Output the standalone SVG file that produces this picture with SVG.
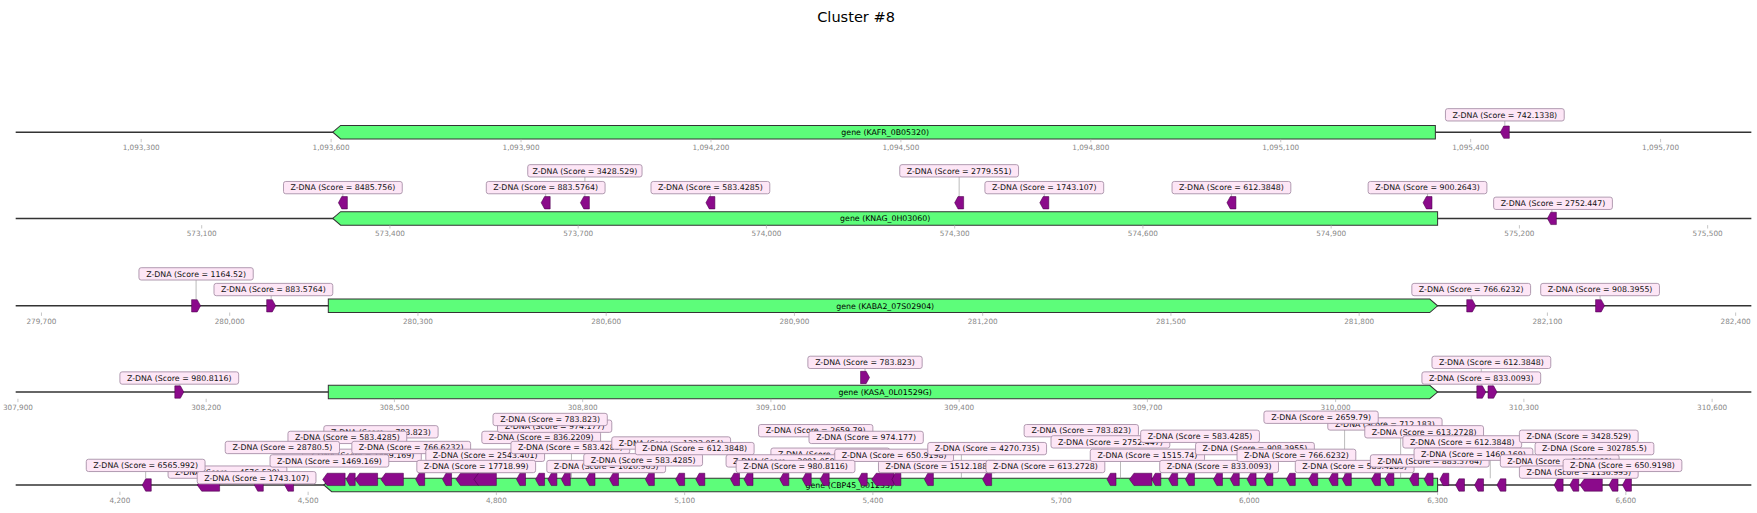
<svg xmlns="http://www.w3.org/2000/svg" xmlns:xlink="http://www.w3.org/1999/xlink" width="1757" height="513" viewBox="0 0 1757 513">
<style>
.ax{stroke:#333;stroke-width:1.3;fill:none}
.gene{fill:#5dfd7a;stroke:#333;stroke-width:0.9}
.gl{font-family:"DejaVu Sans",sans-serif;font-size:7px;fill:#000;text-anchor:middle}
.tk{font-family:"DejaVu Sans",sans-serif;font-size:6.5px;fill:#888;text-anchor:middle}
.tm{stroke:#aaa;stroke-width:0.6}
.lb rect{fill:#fde6f6;stroke:#a890a8;stroke-width:0.8}
.lb text{font-family:"DejaVu Sans",sans-serif;font-size:7px;fill:#111;text-anchor:middle}
.ld{stroke:#999;stroke-width:0.6}
.ft{fill:#8b0a8b;stroke:#4a004a;stroke-width:0.5}
.title{font-family:"DejaVu Sans",sans-serif;font-size:13px;fill:#000;text-anchor:middle}
</style>
<defs>
<path id="fl" class="ft" d="M-4,0 L-1,-5.5 H4 V5.5 H-1 Z"/>
<path id="fr" class="ft" d="M4,0 L1,-5.5 H-4 V5.5 H1 Z"/>
<path id="wl" class="ft" d="M-10,0 L-6,-5.5 H10 V5.5 H-6 Z"/>
</defs>
<rect width="1757" height="513" fill="#fff"/>
<g transform="scale(1.1205,1.1201)">
<text class="title" x="764" y="20">Cluster #8</text>

<!-- Track 1 -->
<g id="track1">
<line class="ax" x1="14" y1="118" x2="1563" y2="118"/>
<g id="gene1"><path class="gene" d="M297,118 L304,112 H1281 V124 H304 Z"/><text class="gl" x="790" y="120.5">gene (KAFR_0B05320)</text></g>
<g class="tm"><line x1="126" y1="124" x2="126" y2="127"/><line x1="295.5" y1="124" x2="295.5" y2="127"/><line x1="465" y1="124" x2="465" y2="127"/><line x1="634.5" y1="124" x2="634.5" y2="127"/><line x1="804" y1="124" x2="804" y2="127"/><line x1="973.5" y1="124" x2="973.5" y2="127"/><line x1="1143" y1="124" x2="1143" y2="127"/><line x1="1312.5" y1="124" x2="1312.5" y2="127"/><line x1="1482" y1="124" x2="1482" y2="127"/></g>
<text class="tk" x="126" y="134">1,093,300</text><text class="tk" x="295.5" y="134">1,093,600</text><text class="tk" x="465" y="134">1,093,900</text><text class="tk" x="634.5" y="134">1,094,200</text><text class="tk" x="804" y="134">1,094,500</text><text class="tk" x="973.5" y="134">1,094,800</text><text class="tk" x="1143" y="134">1,095,100</text><text class="tk" x="1312.5" y="134">1,095,400</text><text class="tk" x="1482" y="134">1,095,700</text>
</g>

<!-- Track 2 -->
<g id="track2">
<line class="ax" x1="14" y1="195" x2="1563" y2="195"/>
<g id="gene2"><path class="gene" d="M297,195 L304,189 H1283 V201 H304 Z"/><text class="gl" x="790" y="197.5">gene (KNAG_0H03060)</text></g>
<g class="tm"><line x1="180" y1="201" x2="180" y2="204"/><line x1="348" y1="201" x2="348" y2="204"/><line x1="516" y1="201" x2="516" y2="204"/><line x1="684" y1="201" x2="684" y2="204"/><line x1="852" y1="201" x2="852" y2="204"/><line x1="1020" y1="201" x2="1020" y2="204"/><line x1="1188" y1="201" x2="1188" y2="204"/><line x1="1356" y1="201" x2="1356" y2="204"/><line x1="1524" y1="201" x2="1524" y2="204"/></g>
<text class="tk" x="180" y="211">573,100</text><text class="tk" x="348" y="211">573,400</text><text class="tk" x="516" y="211">573,700</text><text class="tk" x="684" y="211">574,000</text><text class="tk" x="852" y="211">574,300</text><text class="tk" x="1020" y="211">574,600</text><text class="tk" x="1188" y="211">574,900</text><text class="tk" x="1356" y="211">575,200</text><text class="tk" x="1524" y="211">575,500</text>
</g>

<!-- Track 3 -->
<g id="track3">
<line class="ax" x1="14" y1="273" x2="1563" y2="273"/>
<g id="gene3"><path class="gene" d="M293,267 H1276 L1283,273 L1276,279 H293 Z"/><text class="gl" x="790" y="275.5">gene (KABA2_07S02904)</text></g>
<g class="tm"><line x1="37" y1="279" x2="37" y2="282"/><line x1="205" y1="279" x2="205" y2="282"/><line x1="373" y1="279" x2="373" y2="282"/><line x1="541" y1="279" x2="541" y2="282"/><line x1="709" y1="279" x2="709" y2="282"/><line x1="877" y1="279" x2="877" y2="282"/><line x1="1045" y1="279" x2="1045" y2="282"/><line x1="1213" y1="279" x2="1213" y2="282"/><line x1="1381" y1="279" x2="1381" y2="282"/><line x1="1549" y1="279" x2="1549" y2="282"/></g>
<text class="tk" x="37" y="289">279,700</text><text class="tk" x="205" y="289">280,000</text><text class="tk" x="373" y="289">280,300</text><text class="tk" x="541" y="289">280,600</text><text class="tk" x="709" y="289">280,900</text><text class="tk" x="877" y="289">281,200</text><text class="tk" x="1045" y="289">281,500</text><text class="tk" x="1213" y="289">281,800</text><text class="tk" x="1381" y="289">282,100</text><text class="tk" x="1549" y="289">282,400</text>
</g>

<!-- Track 4 -->
<g id="track4">
<line class="ax" x1="14" y1="350" x2="1563" y2="350"/>
<g id="gene4"><path class="gene" d="M293,344 H1276 L1283,350 L1276,356 H293 Z"/><text class="gl" x="790" y="352.5">gene (KASA_0L01529G)</text></g>
<g class="tm"><line x1="16" y1="356" x2="16" y2="359"/><line x1="184" y1="356" x2="184" y2="359"/><line x1="352" y1="356" x2="352" y2="359"/><line x1="520" y1="356" x2="520" y2="359"/><line x1="688" y1="356" x2="688" y2="359"/><line x1="856" y1="356" x2="856" y2="359"/><line x1="1024" y1="356" x2="1024" y2="359"/><line x1="1192" y1="356" x2="1192" y2="359"/><line x1="1360" y1="356" x2="1360" y2="359"/><line x1="1528" y1="356" x2="1528" y2="359"/></g>
<text class="tk" x="16" y="366">307,900</text><text class="tk" x="184" y="366">308,200</text><text class="tk" x="352" y="366">308,500</text><text class="tk" x="520" y="366">308,800</text><text class="tk" x="688" y="366">309,100</text><text class="tk" x="856" y="366">309,400</text><text class="tk" x="1024" y="366">309,700</text><text class="tk" x="1192" y="366">310,000</text><text class="tk" x="1360" y="366">310,300</text><text class="tk" x="1528" y="366">310,600</text>
</g>

<!-- Track 5 -->
<g id="track5">
<line class="ax" x1="14" y1="433" x2="1563" y2="433"/>
<g id="gene5"><path class="gene" d="M289,433 L296,427 H1283 V439 H296 Z"/><text class="gl" x="758" y="436">gene (CBP45_001233)</text></g>
<g class="tm"><line x1="107" y1="439" x2="107" y2="442"/><line x1="275" y1="439" x2="275" y2="442"/><line x1="443" y1="439" x2="443" y2="442"/><line x1="611" y1="439" x2="611" y2="442"/><line x1="779" y1="439" x2="779" y2="442"/><line x1="947" y1="439" x2="947" y2="442"/><line x1="1115" y1="439" x2="1115" y2="442"/><line x1="1283" y1="439" x2="1283" y2="442"/><line x1="1451" y1="439" x2="1451" y2="442"/></g>
<text class="tk" x="107" y="449">4,200</text><text class="tk" x="275" y="449">4,500</text><text class="tk" x="443" y="449">4,800</text><text class="tk" x="611" y="449">5,100</text><text class="tk" x="779" y="449">5,400</text><text class="tk" x="947" y="449">5,700</text><text class="tk" x="1115" y="449">6,000</text><text class="tk" x="1283" y="449">6,300</text><text class="tk" x="1451" y="449">6,600</text>
</g>

<!-- connectors (leader lines) -->
<g id="connectors">
<line class="ld" x1="1343" y1="108" x2="1343" y2="112"/>
<line class="ld" x1="306" y1="173" x2="306" y2="176"/>
<line class="ld" x1="522" y1="158" x2="522" y2="176"/>
<line class="ld" x1="487" y1="173" x2="487" y2="176"/>
<line class="ld" x1="634" y1="173" x2="634" y2="176"/>
<line class="ld" x1="856" y1="158" x2="856" y2="176"/>
<line class="ld" x1="932" y1="173" x2="932" y2="176"/>
<line class="ld" x1="1099" y1="173" x2="1099" y2="176"/>
<line class="ld" x1="1274" y1="173" x2="1274" y2="176"/>
<line class="ld" x1="1385" y1="187" x2="1385" y2="190"/>
<line class="ld" x1="175" y1="250" x2="175" y2="267"/>
<line class="ld" x1="242" y1="264" x2="242" y2="267"/>
<line class="ld" x1="1313" y1="264" x2="1313" y2="267"/>
<line class="ld" x1="1428" y1="264" x2="1428" y2="267"/>
<line class="ld" x1="160" y1="343" x2="160" y2="344"/>
<line class="ld" x1="772" y1="329" x2="772" y2="332"/>
<line class="ld" x1="1322" y1="329" x2="1322" y2="344"/>
<line class="ld" x1="1332" y1="343" x2="1332" y2="344"/>
<line class="ld" x1="130" y1="421" x2="130" y2="427"/>
<line class="ld" x1="1200" y1="383" x2="1200" y2="427"/>
<line class="ld" x1="1250" y1="388" x2="1250" y2="427"/>
<line class="ld" x1="1330" y1="399" x2="1330" y2="427"/>
<line class="ld" x1="1000" y1="404" x2="1000" y2="427"/>
<line class="ld" x1="858" y1="399" x2="858" y2="427"/>
<line class="ld" x1="510" y1="389" x2="510" y2="427"/>
<line class="ld" x1="1420" y1="399" x2="1420" y2="427"/>
</g>

<!-- features -->
<g id="features">
<use xlink:href="#fl" x="1343" y="118"/>
<use xlink:href="#fl" x="306" y="181"/><use xlink:href="#fl" x="487" y="181"/><use xlink:href="#fl" x="522" y="181"/><use xlink:href="#fl" x="634" y="181"/><use xlink:href="#fl" x="856" y="181"/><use xlink:href="#fl" x="932" y="181"/><use xlink:href="#fl" x="1099" y="181"/><use xlink:href="#fl" x="1274" y="181"/><use xlink:href="#fl" x="1385" y="195"/>
<use xlink:href="#fr" x="175" y="273"/><use xlink:href="#fr" x="242" y="273"/><use xlink:href="#fr" x="1313" y="273"/><use xlink:href="#fr" x="1428" y="273"/>
<use xlink:href="#fr" x="160" y="350"/><use xlink:href="#fr" x="772" y="337"/><use xlink:href="#fr" x="1322" y="350"/><use xlink:href="#fr" x="1332" y="350"/>
<use xlink:href="#fl" x="131" y="433"/><use xlink:href="#wl" x="186" y="433"/><use xlink:href="#fl" x="231" y="433"/><use xlink:href="#fl" x="258" y="433"/>
<use xlink:href="#wl" x="298" y="428"/><use xlink:href="#fl" x="313" y="428"/><use xlink:href="#wl" x="327" y="428"/><use xlink:href="#wl" x="350" y="428"/><use xlink:href="#fl" x="375" y="428"/><use xlink:href="#fl" x="399" y="428"/><use xlink:href="#wl" x="417" y="428"/><use xlink:href="#wl" x="433" y="428"/><use xlink:href="#fl" x="465" y="428"/><use xlink:href="#fl" x="482" y="428"/><use xlink:href="#fl" x="493" y="428"/><use xlink:href="#fl" x="505" y="428"/><use xlink:href="#fl" x="527" y="428"/><use xlink:href="#fl" x="548" y="428"/><use xlink:href="#fl" x="580" y="428"/><use xlink:href="#fl" x="607" y="428"/><use xlink:href="#fl" x="625" y="428"/><use xlink:href="#fl" x="656" y="428"/><use xlink:href="#fl" x="668" y="428"/><use xlink:href="#fl" x="700" y="428"/><use xlink:href="#fl" x="720" y="428"/><use xlink:href="#fl" x="736" y="428"/><use xlink:href="#fl" x="770" y="428"/><use xlink:href="#wl" x="788" y="428"/><use xlink:href="#fl" x="800" y="428"/><use xlink:href="#fl" x="829" y="428"/><use xlink:href="#fl" x="881" y="428"/><use xlink:href="#fl" x="992" y="428"/><use xlink:href="#wl" x="1018" y="428"/><use xlink:href="#fl" x="1032" y="428"/><use xlink:href="#fl" x="1047" y="428"/><use xlink:href="#fl" x="1062" y="428"/><use xlink:href="#fl" x="1087" y="428"/><use xlink:href="#fl" x="1102" y="428"/><use xlink:href="#fl" x="1117" y="428"/><use xlink:href="#fl" x="1132" y="428"/><use xlink:href="#fl" x="1152" y="428"/><use xlink:href="#fl" x="1172" y="428"/><use xlink:href="#fl" x="1190" y="428"/><use xlink:href="#fl" x="1202" y="428"/><use xlink:href="#fl" x="1228" y="428"/><use xlink:href="#fl" x="1240" y="428"/><use xlink:href="#fl" x="1262" y="428"/><use xlink:href="#fl" x="1275" y="428"/><use xlink:href="#fl" x="1289" y="428"/>
<use xlink:href="#fl" x="1303" y="433"/><use xlink:href="#fl" x="1320" y="433"/><use xlink:href="#fl" x="1340" y="433"/><use xlink:href="#fl" x="1391" y="433"/><use xlink:href="#fl" x="1405" y="433"/><use xlink:href="#wl" x="1420" y="433"/><use xlink:href="#fl" x="1440" y="433"/><use xlink:href="#fl" x="1452" y="433"/>
</g>

<!-- labels -->
<g id="labels" class="lb">
<g><rect x="1290" y="97" width="106" height="11" rx="2"/><text x="1343" y="105">Z-DNA (Score = 742.1338)</text></g>
<g><rect x="253" y="162" width="106" height="11" rx="2"/><text x="306" y="170">Z-DNA (Score = 8485.756)</text></g>
<g><rect x="471" y="147" width="102" height="11" rx="2"/><text x="522" y="155">Z-DNA (Score = 3428.529)</text></g>
<g><rect x="434" y="162" width="106" height="11" rx="2"/><text x="487" y="170">Z-DNA (Score = 883.5764)</text></g>
<g><rect x="581" y="162" width="106" height="11" rx="2"/><text x="634" y="170">Z-DNA (Score = 583.4285)</text></g>
<g><rect x="803" y="147" width="106" height="11" rx="2"/><text x="856" y="155">Z-DNA (Score = 2779.551)</text></g>
<g><rect x="879" y="162" width="106" height="11" rx="2"/><text x="932" y="170">Z-DNA (Score = 1743.107)</text></g>
<g><rect x="1046" y="162" width="106" height="11" rx="2"/><text x="1099" y="170">Z-DNA (Score = 612.3848)</text></g>
<g><rect x="1221" y="162" width="106" height="11" rx="2"/><text x="1274" y="170">Z-DNA (Score = 900.2643)</text></g>
<g><rect x="1333" y="176" width="106" height="11" rx="2"/><text x="1386" y="184">Z-DNA (Score = 2752.447)</text></g>
<g><rect x="124" y="239" width="102" height="11" rx="2"/><text x="175" y="247">Z-DNA (Score = 1164.52)</text></g>
<g><rect x="191" y="253" width="106" height="11" rx="2"/><text x="244" y="261">Z-DNA (Score = 883.5764)</text></g>
<g><rect x="1260" y="253" width="106" height="11" rx="2"/><text x="1313" y="261">Z-DNA (Score = 766.6232)</text></g>
<g><rect x="1375" y="253" width="106" height="11" rx="2"/><text x="1428" y="261">Z-DNA (Score = 908.3955)</text></g>
<g><rect x="107" y="332" width="106" height="11" rx="2"/><text x="160" y="340">Z-DNA (Score = 980.8116)</text></g>
<g><rect x="721" y="318" width="102" height="11" rx="2"/><text x="772" y="326">Z-DNA (Score = 783.823)</text></g>
<g><rect x="1278" y="318" width="106" height="11" rx="2"/><text x="1331" y="326">Z-DNA (Score = 612.3848)</text></g>
<g><rect x="1269" y="332" width="106" height="11" rx="2"/><text x="1322" y="340">Z-DNA (Score = 833.0093)</text></g>
<!-- track 5 labels -->
<g><rect x="150" y="416" width="106" height="11" rx="2"/><text x="203" y="424">Z-DNA (Score = 4576.539)</text></g>
<g><rect x="77" y="410" width="106" height="11" rx="2"/><text x="130" y="418">Z-DNA (Score = 6565.992)</text></g>
<g><rect x="289" y="380" width="102" height="11" rx="2"/><text x="340" y="388">Z-DNA (Score = 783.823)</text></g>
<g><rect x="257" y="385" width="106" height="11" rx="2"/><text x="310" y="393">Z-DNA (Score = 583.4285)</text></g>
<g><rect x="270" y="401" width="106" height="11" rx="2"/><text x="323" y="409">Z-DNA (Score = 1469.169)</text></g>
<g><rect x="241" y="406" width="106" height="11" rx="2"/><text x="294" y="414">Z-DNA (Score = 1469.169)</text></g>
<g><rect x="201" y="394" width="102" height="11" rx="2"/><text x="252" y="402">Z-DNA (Score = 28780.5)</text></g>
<g><rect x="314" y="394" width="106" height="11" rx="2"/><text x="367" y="402">Z-DNA (Score = 766.6232)</text></g>
<g><rect x="176" y="421" width="106" height="11" rx="2"/><text x="229" y="429">Z-DNA (Score = 1743.107)</text></g>
<g><rect x="430" y="385" width="106" height="11" rx="2"/><text x="483" y="393">Z-DNA (Score = 836.2209)</text></g>
<g><rect x="444" y="375" width="102" height="11" rx="2"/><text x="495" y="383">Z-DNA (Score = 974.177)</text></g>
<g><rect x="440" y="369" width="102" height="11" rx="2"/><text x="491" y="377">Z-DNA (Score = 783.823)</text></g>
<g><rect x="380" y="401" width="106" height="11" rx="2"/><text x="433" y="409">Z-DNA (Score = 2543.401)</text></g>
<g><rect x="456" y="394" width="106" height="11" rx="2"/><text x="509" y="402">Z-DNA (Score = 583.4285)</text></g>
<g><rect x="372" y="411" width="106" height="11" rx="2"/><text x="425" y="419">Z-DNA (Score = 17718.99)</text></g>
<g><rect x="546" y="390" width="106" height="11" rx="2"/><text x="599" y="398">Z-DNA (Score = 1323.054)</text></g>
<g><rect x="488" y="411" width="106" height="11" rx="2"/><text x="541" y="419">Z-DNA (Score = 1020.965)</text></g>
<g><rect x="521" y="405" width="106" height="11" rx="2"/><text x="574" y="413">Z-DNA (Score = 583.4285)</text></g>
<g><rect x="567" y="395" width="106" height="11" rx="2"/><text x="620" y="403">Z-DNA (Score = 612.3848)</text></g>
<g><rect x="677" y="379" width="102" height="11" rx="2"/><text x="728" y="387">Z-DNA (Score = 2659.79)</text></g>
<g><rect x="688" y="400" width="106" height="11" rx="2"/><text x="741" y="408">Z-DNA (Score = 1743.107)</text></g>
<g><rect x="648" y="406" width="106" height="11" rx="2"/><text x="701" y="414">Z-DNA (Score = 2091.059)</text></g>
<g><rect x="722" y="385" width="102" height="11" rx="2"/><text x="773" y="393">Z-DNA (Score = 974.177)</text></g>
<g><rect x="784" y="411" width="106" height="11" rx="2"/><text x="837" y="419">Z-DNA (Score = 1512.188)</text></g>
<g><rect x="745" y="401" width="106" height="11" rx="2"/><text x="798" y="409">Z-DNA (Score = 650.9198)</text></g>
<g><rect x="657" y="411" width="106" height="11" rx="2"/><text x="710" y="419">Z-DNA (Score = 980.8116)</text></g>
<g><rect x="828" y="395" width="106" height="11" rx="2"/><text x="881" y="403">Z-DNA (Score = 4270.735)</text></g>
<g><rect x="914" y="379" width="102" height="11" rx="2"/><text x="965" y="387">Z-DNA (Score = 783.823)</text></g>
<g><rect x="938" y="389" width="106" height="11" rx="2"/><text x="991" y="397">Z-DNA (Score = 2752.447)</text></g>
<g><rect x="880" y="411" width="106" height="11" rx="2"/><text x="933" y="419">Z-DNA (Score = 613.2728)</text></g>
<g><rect x="973" y="401" width="102" height="11" rx="2"/><text x="1024" y="409">Z-DNA (Score = 1515.74)</text></g>
<g><rect x="1018" y="384" width="106" height="11" rx="2"/><text x="1071" y="392">Z-DNA (Score = 583.4285)</text></g>
<g><rect x="1067" y="395" width="106" height="11" rx="2"/><text x="1120" y="403">Z-DNA (Score = 908.3955)</text></g>
<g><rect x="1035" y="411" width="106" height="11" rx="2"/><text x="1088" y="419">Z-DNA (Score = 833.0093)</text></g>
<g><rect x="1104" y="401" width="106" height="11" rx="2"/><text x="1157" y="409">Z-DNA (Score = 766.6232)</text></g>
<g><rect x="1156" y="411" width="106" height="11" rx="2"/><text x="1209" y="419">Z-DNA (Score = 583.4285)</text></g>
<g><rect x="1185" y="373" width="102" height="11" rx="2"/><text x="1236" y="381">Z-DNA (Score = 712.183)</text></g>
<g><rect x="1128" y="367" width="102" height="11" rx="2"/><text x="1179" y="375">Z-DNA (Score = 2659.79)</text></g>
<g><rect x="1218" y="380" width="106" height="11" rx="2"/><text x="1271" y="388">Z-DNA (Score = 613.2728)</text></g>
<g><rect x="1223" y="406" width="106" height="11" rx="2"/><text x="1276" y="414">Z-DNA (Score = 883.5764)</text></g>
<g><rect x="1252" y="389" width="106" height="11" rx="2"/><text x="1305" y="397">Z-DNA (Score = 612.3848)</text></g>
<g><rect x="1262" y="400" width="106" height="11" rx="2"/><text x="1315" y="408">Z-DNA (Score = 1469.169)</text></g>
<g><rect x="1339" y="406" width="106" height="11" rx="2"/><text x="1392" y="414">Z-DNA (Score = 1469.169)</text></g>
<g><rect x="1356" y="416" width="106" height="11" rx="2"/><text x="1409" y="424">Z-DNA (Score = 1136.995)</text></g>
<g><rect x="1370" y="395" width="106" height="11" rx="2"/><text x="1423" y="403">Z-DNA (Score = 302785.5)</text></g>
<g><rect x="1356" y="384" width="106" height="11" rx="2"/><text x="1409" y="392">Z-DNA (Score = 3428.529)</text></g>
<g><rect x="1395" y="410" width="106" height="11" rx="2"/><text x="1448" y="418">Z-DNA (Score = 650.9198)</text></g>
</g>
</g>
</svg>
